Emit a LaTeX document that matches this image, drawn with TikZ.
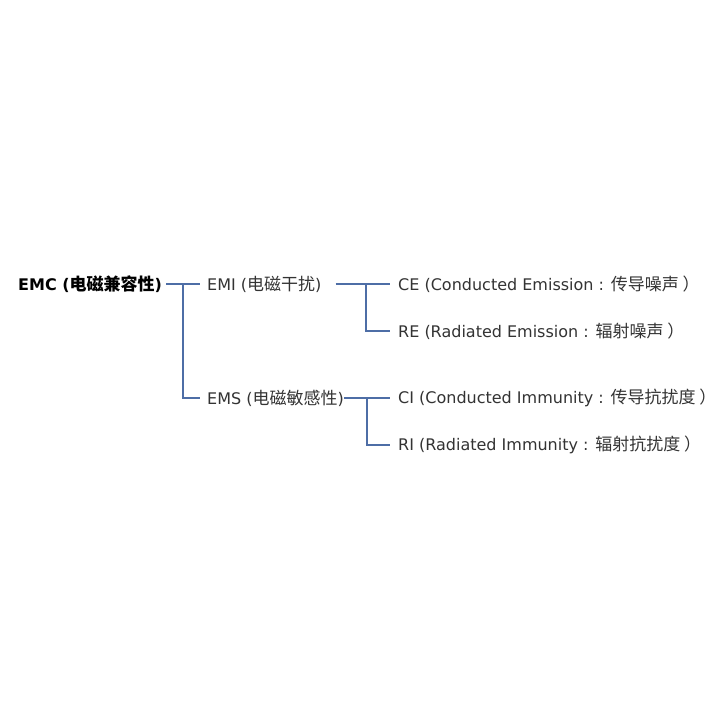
\documentclass[tikz,border=0pt]{standalone}
\usepackage{fontspec}
\setmainfont{DejaVu Sans}
\newfontfamily\cjkf{Noto Sans CJK SC}
\newcommand\zh[1]{{\cjkf\fontsize{17}{18}\selectfont #1}}
\newcommand\zhb[1]{{\cjkf\bfseries\fontsize{17}{18}\selectfont #1}}
\definecolor{linec}{HTML}{4E6EA6}
\definecolor{txt}{HTML}{333333}
\begin{document}
\begin{tikzpicture}[x=1pt,y=-1pt,
  lbl/.style={anchor=west,inner sep=0pt,text=txt,font=\fontsize{16}{18}\selectfont},
  conn/.style={draw=linec,line width=1.8pt}]
\useasboundingbox[fill=white] (0,0) rectangle (720,720);
\node[lbl,text=black,font=\fontsize{16}{18}\selectfont\bfseries] (emc) at (18,284) {EMC (\zhb{电磁兼容性})};
\node[lbl] (emi) at (207,284) {EMI (\zh{电磁干扰})};
\node[lbl] (ems) at (207,398) {EMS (\zh{电磁敏感性})};
\node[lbl] (ce) at (398,284) {CE (Conducted Emission : \zh{传导噪声 ）}};
\node[lbl] (re) at (398,331) {RE (Radiated Emission : \zh{辐射噪声 ）}};
\node[lbl] (ci) at (398,398) {CI (Conducted Immunity : \zh{传导抗扰度 ）}};
\node[lbl] (ri) at (398,445) {RI (Radiated Immunity : \zh{辐射抗扰度 ）}};
\coordinate (j1) at (183,284);
\coordinate (j2) at (366,284);
\coordinate (j3) at (367,398);
\draw[conn] ([xshift=4pt]emc.east) -- (j1) -- ([xshift=-7pt]emi.west);
\draw[conn] (j1) |- ([xshift=-7pt]ems.west);
\draw[conn] ([xshift=14pt]emi.east) -- (j2) -- ([xshift=-8pt]ce.west);
\draw[conn] (j2) |- ([xshift=-8pt]re.west);
\draw[conn] (ems.east) -- (j3) -- ([xshift=-8pt]ci.west);
\draw[conn] (j3) |- ([xshift=-8pt]ri.west);
\end{tikzpicture}
\end{document}
